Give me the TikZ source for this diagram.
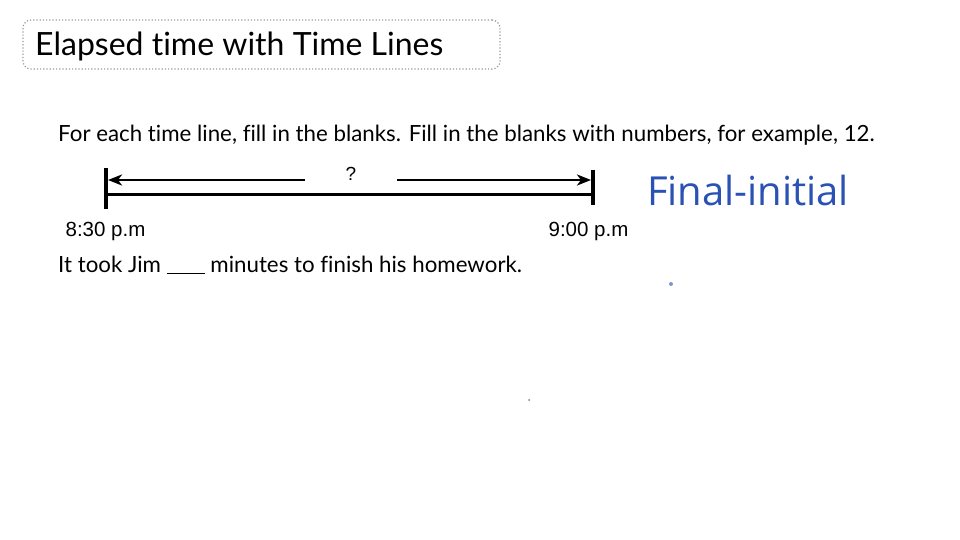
\documentclass[tikz,border=0pt]{standalone}
\usepackage{fontspec}
\setmainfont{Lato}[Ligatures=NoCommon]
\newfontfamily\labelfont{Liberation Sans}
\newfontfamily\handfont{Open Sans}
\usetikzlibrary{arrows.meta,positioning}

\definecolor{inkblue}{HTML}{2A52B4}

\begin{document}
\begin{tikzpicture}[
    x=1pt, y=-1pt,
    titlebox/.style={draw=gray!80, line width=1.2pt, dotted, rounded corners=8pt, minimum width=477pt, minimum height=49pt, inner sep=0pt},
    bodytext/.style={anchor=base west, inner sep=0pt, font=\fontsize{22.3}{26}\selectfont},
    timelabel/.style={inner sep=0pt, font=\labelfont\fontsize{20.5}{24}\selectfont},
    tick/.style={line width=3.2pt},
    timeline/.style={line width=3pt},
    span/.style={line width=2.7pt, -{Stealth[length=14pt, width=11pt, inset=4pt]}},
    hand/.style={inner sep=0pt, text=inkblue, font=\handfont\fontsize{40}{44}\selectfont}
]
\useasboundingbox (0,0) rectangle (960,540);

% Title
\node[titlebox] (titlebox) at (261.5,44.5) {};
\node[anchor=base west, inner sep=0pt, font=\fontsize{32}{38}\selectfont] (title) at (35,56) {Elapsed time with Time Lines};

% Instructions
\node[bodytext] (task) at (58,142) {For each time line, fill in the blanks. Fill in the blanks with numbers, for example, 12.};

% Time line
\coordinate (start) at (106,194);
\coordinate (end) at (593,194);
\draw[tick] (106,168) -- (106,209);
\draw[tick] (593,170) -- (593,205);
\draw[timeline] (start) -- (end);

\node[inner sep=0pt, font=\labelfont\fontsize{19}{22}\selectfont] (gap) at (351,174) {?};
\coordinate (gapleft) at (305,180);
\coordinate (gapright) at (397,180);
\coordinate (arrowleft) at (108,180);
\coordinate (arrowright) at (591,180);
\draw[span] (gapleft) -- (arrowleft);
\draw[span] (gapright) -- (arrowright);

\node[timelabel] (initial) at (105.5,231) {8:30 p.m};
\node[timelabel] (final) at (588.5,231) {9:00 p.m};

% Question
\node[bodytext] (question) at (58,272) {It took Jim \underline{\hspace{38pt}} minutes to finish his homework.};

% Handwritten note
\node[hand] (note) at (748,190) {Final-initial};
\fill[inkblue!60] (671,284) circle (2pt);
\fill[gray] (529,400) circle (1pt);

\end{tikzpicture}
\end{document}
